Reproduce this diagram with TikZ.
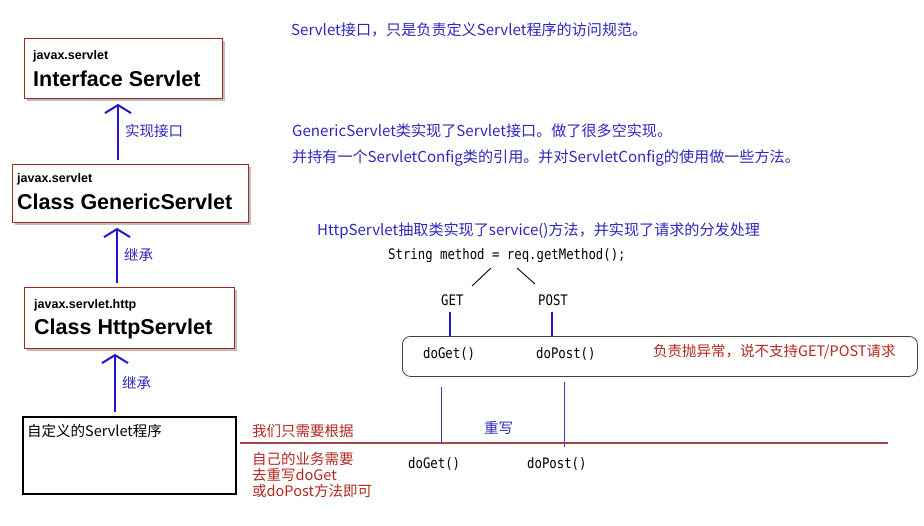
\documentclass[tikz,border=0pt]{standalone}
\usepackage{fontspec}
\setmainfont{Liberation Sans}
\newfontfamily\cjk{Noto Sans CJK SC}
\newfontfamily\mono[FakeStretch=0.85]{DejaVu Sans Mono}
\usetikzlibrary{arrows.meta,shadows,positioning}
\usepackage{xcolor}
\definecolor{noteblue}{RGB}{48,40,190}
\definecolor{arrowblue}{RGB}{35,20,205}
\definecolor{thinblue}{RGB}{60,60,170}
\definecolor{notered}{RGB}{180,40,30}
\definecolor{boxred}{RGB}{165,40,40}
\definecolor{linered}{RGB}{160,70,70}

\tikzset{
 classbox/.style={draw=boxred, line width=.9pt, fill=white, anchor=north west,
  drop shadow={shadow xshift=2.5pt, shadow yshift=-2.5pt, opacity=.55, fill=black!45}},
 pkg/.style={font=\bfseries\fontsize{12.5}{14}\selectfont, anchor=base west, inner sep=0},
 cls/.style={font=\bfseries\fontsize{21.5}{24}\selectfont, anchor=base west, inner sep=0},
 note/.style={font=\cjk\fontsize{14.5}{15.8}\selectfont, text=noteblue, anchor=west, inner sep=0},
 remark/.style={note, font=\cjk\fontsize{15.1}{17}\selectfont},
 warn/.style={note, text=notered},
 code/.style={font=\mono\fontsize{14.5}{16}\selectfont, anchor=west, inner sep=0},
 inherit/.style={arrowblue, line width=2pt, -{Straight Barb[length=8pt,width=26pt,line width=2pt]},
  shorten <=4pt, shorten >=5pt},
}

\begin{document}
\begin{tikzpicture}[x=1pt,y=-1pt]
\path[use as bounding box, fill=white] (0,0) rectangle (924,525);

\node[classbox, minimum width=198, minimum height=60] (servlet) at (24,38) {};
\node[pkg] (servletpkg) at (33,59) {javax.servlet};
\node[cls] (servletname) at (33,86) {Interface Servlet};

\node[classbox, minimum width=236, minimum height=58] (generic) at (12,164) {};
\node[pkg] (genericpkg) at (17,182) {javax.servlet};
\node[cls] (genericname) at (17,209) {Class GenericServlet};

\node[classbox, minimum width=210, minimum height=61] (http) at (24,287) {};
\node[pkg] (httppkg) at (34,308) {javax.servlet.http};
\node[cls] (httpname) at (34,334) {Class HttpServlet};

\node[draw=black, line width=1.8pt, minimum width=213, minimum height=77, anchor=north west] (custom) at (22,416) {};
\node[note, text=black] (customtext) at (27,431) {自定义的Servlet程序};

\foreach \from/\to/\x/\txt in {generic/servlet/118/实现接口, http/generic/117/继承, custom/http/115/继承} {
 \coordinate (\from-spine) at (\x,0);
 \draw[inherit] (\from.north -| \from-spine) -- (\to.south -| \from-spine)
  node[note, midway, xshift=6] (\from-label) {\txt};
}

\node[remark] (servletnote) at (291,30) {Servlet接口，只是负责定义Servlet程序的访问规范。};
\node[remark] (genericnote) at (292,131) {GenericServlet类实现了Servlet接口。做了很多空实现。};
\node[remark] (confignote) at (292,158) {并持有一个ServletConfig类的引用。并对ServletConfig的使用做一些方法。};
\node[remark] (httpnote) at (317,231) {HttpServlet抽取类实现了service()方法，并实现了请求的分发处理};

\node[code] (method) at (388,256) {String method = req.getMethod();};
\draw[black, line width=.9pt] (491,268) -- (472,286);
\draw[black, line width=.9pt] (517,268) -- (535,284);
\node[code] (get) at (441,300) {GET};
\node[code] (post) at (538,300) {POST};

\node[draw=black!75, line width=.8pt, rounded corners=8pt, minimum width=515, minimum height=40, anchor=north west] (dispatch) at (402,336) {};
\foreach \m/\x in {get/450, post/552} {
 \coordinate (\m-drop) at (\x,0);
 \draw[arrowblue, line width=2pt, shorten <=6pt] (\m.south -| \m-drop) -- (dispatch.north -| \m-drop);
}
\node[code] (dispatchget) at (423,354) {doGet()};
\node[code] (dispatchpost) at (536,354) {doPost()};
\node[warn] (refuse) at (653,352) {负责抛异常，说不支持GET/POST请求};

\draw[thinblue, line width=.8pt] (441,387) -- (441,444);
\draw[thinblue, line width=.8pt] (564,382) -- (564,447);
\node[note] (override) at (484,428) {重写};
\draw[linered, line width=1.2pt] (240,443) -- (888,443);
\node[warn] (onlyneed) at (252,431) {我们只需要根据};
\node[warn, align=left, anchor=north west] (business) at (252,452) {自己的业务需要\\去重写doGet\\或doPost方法即可};
\node[code] (userget) at (408,464) {doGet()};
\node[code] (userpost) at (527,464) {doPost()};
\end{tikzpicture}
\end{document}
